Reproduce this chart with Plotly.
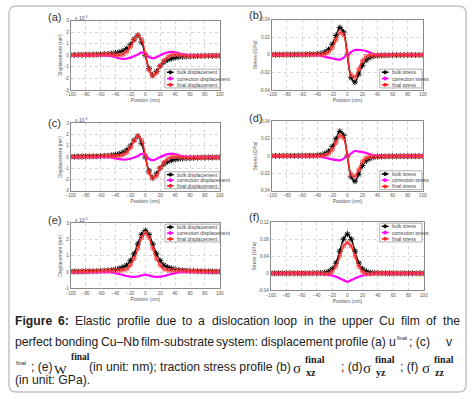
import plotly.graph_objects as go

W, H = 474, 399

X = list(range(-100, 105, 5))

# (a) u displacement (x 1e-3 nm)
A_BULK = [0.03,0.03,0.04,0.04,0.05,0.05,0.06,0.07,0.08,0.10,
          0.12,0.15,0.20,0.27,0.38,0.58,0.92,1.40,1.72,1.15,
          0.00,
          -1.15,-1.72,-1.40,-0.92,-0.60,-0.40,-0.28,-0.20,-0.15,
          -0.12,-0.10,-0.08,-0.07,-0.06,-0.05,-0.05,-0.04,-0.04,-0.03,
          -0.03]
A_CORR = [0,0,0,0,0,0,0,0,0,0,
          -0.02,-0.08,-0.15,-0.25,-0.30,-0.28,-0.20,-0.08,0.08,0.25,
          0.15,
          -0.15,-0.25,-0.15,0.00,0.15,0.25,0.30,0.28,0.18,
          0.10,0.05,0.02,0.01,0,0,0,0,0,0,
          0]
A_FINAL = [0.03,0.03,0.04,0.04,0.05,0.05,0.06,0.07,0.08,0.10,
           0.10,0.07,0.05,0.02,0.08,0.30,0.72,1.32,1.74,1.38,
           0.12,
           -1.28,-1.78,-1.52,-0.92,-0.45,-0.15,0.02,0.08,0.03,
           -0.02,-0.05,-0.06,-0.06,-0.06,-0.05,-0.05,-0.04,-0.04,-0.03,
           -0.03]

# (b) sigma_xz (GPa)
B_BULK = [0.0002,0.0002,0.0002,0.0002,0.0002,0.0002,0.0003,0.0003,0.0003,0.0004,
          0.0005,0.0006,0.0008,0.0015,0.003,0.006,0.012,0.022,0.031,0.026,
          0.0,
          -0.026,-0.031,-0.022,-0.012,-0.006,-0.003,-0.0015,-0.0008,-0.0006,
          -0.0005,-0.0004,-0.0003,-0.0003,-0.0003,-0.0002,-0.0002,-0.0002,-0.0002,-0.0002,
          -0.0002]
B_CORR = [0,0,0,0,0,0,0,0,0,0,
          0,-0.0001,-0.0004,-0.0012,-0.0022,-0.0032,-0.0041,-0.005,-0.0055,-0.0032,
          0.0,
          0.0032,0.0055,0.0056,0.0052,0.0042,0.0025,0.001,0.0003,0.0001,
          0,0,0,0,0,0,0,0,0,0,
          0]
B_FINAL = [0.0002,0.0002,0.0002,0.0002,0.0002,0.0002,0.0003,0.0003,0.0003,0.0004,
           0.0005,0.0005,0.0004,0.0003,0.0008,0.0028,0.0079,0.017,0.0255,0.0228,
           0.0,
           -0.0228,-0.0255,-0.0164,-0.0068,-0.0018,-0.0005,-0.0005,-0.0005,-0.0005,
           -0.0005,-0.0004,-0.0003,-0.0003,-0.0003,-0.0002,-0.0002,-0.0002,-0.0002,-0.0002,
           -0.0002]

# (c) v displacement (x 1e-3 nm)
C_BULK = [0.03,0.03,0.04,0.04,0.05,0.05,0.06,0.07,0.08,0.10,
          0.12,0.16,0.21,0.29,0.41,0.62,0.98,1.50,1.85,1.24,
          0.0,
          -1.24,-1.85,-1.50,-0.98,-0.63,-0.42,-0.29,-0.21,-0.16,
          -0.12,-0.10,-0.08,-0.07,-0.06,-0.05,-0.05,-0.04,-0.04,-0.03,
          -0.03]
C_CORR = [0,0,0,0,0,0,0,0,0,0,
          -0.02,-0.06,-0.12,-0.18,-0.22,-0.22,-0.15,-0.05,0.10,0.28,
          0.18,
          -0.18,-0.28,-0.18,0.0,0.15,0.26,0.30,0.26,0.16,
          0.09,0.04,0.02,0.01,0,0,0,0,0,0,
          0]
C_FINAL = [0.03,0.03,0.04,0.04,0.05,0.05,0.06,0.07,0.08,0.10,
           0.10,0.10,0.09,0.11,0.19,0.40,0.83,1.45,1.90,1.50,
           0.18,
           -1.42,-1.92,-1.68,-0.98,-0.48,-0.16,0.01,0.05,0.0,
           -0.03,-0.06,-0.06,-0.06,-0.06,-0.05,-0.05,-0.04,-0.04,-0.03,
           -0.03]

# (d) sigma_yz (GPa)
D_BULK = [0.0002,0.0002,0.0002,0.0002,0.0002,0.0002,0.0002,0.0003,0.0003,0.0003,
          0.0004,0.0005,0.0007,0.0013,0.0028,0.0055,0.011,0.020,0.0285,0.024,
          0.0,
          -0.024,-0.0292,-0.021,-0.011,-0.0055,-0.0028,-0.0013,-0.0007,-0.0005,
          -0.0004,-0.0003,-0.0003,-0.0003,-0.0002,-0.0002,-0.0002,-0.0002,-0.0002,-0.0002,
          -0.0002]
D_CORR = [0,0,0,0,0,0,0,0,0,0,
          0,-0.0001,-0.0003,-0.001,-0.002,-0.003,-0.0038,-0.0045,-0.005,-0.003,
          0.0,
          0.003,0.0058,0.0052,0.0046,0.0036,0.002,0.0008,0.0002,0.0001,
          0,0,0,0,0,0,0,0,0,0,
          0]
D_FINAL = [0.0002,0.0002,0.0002,0.0002,0.0002,0.0002,0.0002,0.0003,0.0003,0.0003,
           0.0004,0.0004,0.0004,0.0003,0.0008,0.0025,0.0072,0.0155,0.0235,0.021,
           0.0,
           -0.021,-0.0234,-0.0158,-0.0064,-0.0019,-0.0008,-0.0005,-0.0005,-0.0004,
           -0.0004,-0.0003,-0.0003,-0.0003,-0.0002,-0.0002,-0.0002,-0.0002,-0.0002,-0.0002,
           -0.0002]

# (e) w displacement (x 1e-3 nm)
E_BULK = [0.03,0.03,0.03,0.04,0.04,0.05,0.05,0.06,0.07,0.08,
          0.10,0.12,0.16,0.22,0.30,0.42,0.70,1.12,1.72,2.30,
          2.55,
          2.30,1.72,1.12,0.70,0.42,0.30,0.22,0.16,0.12,
          0.10,0.08,0.07,0.06,0.05,0.05,0.04,0.04,0.03,0.03,
          0.03]
E_CORR = [0,0,0,0,0,0,0,0,0,0,
          0,-0.02,-0.06,-0.12,-0.18,-0.24,-0.28,-0.30,-0.27,-0.20,
          -0.16,
          -0.20,-0.27,-0.30,-0.28,-0.24,-0.18,-0.12,-0.06,-0.02,
          0,0,0,0,0,0,0,0,0,0,
          0]
E_FINAL = [0.03,0.03,0.03,0.04,0.04,0.05,0.05,0.06,0.07,0.08,
           0.10,0.10,0.10,0.10,0.12,0.18,0.42,0.82,1.45,2.10,
           2.39,
           2.10,1.45,0.82,0.42,0.18,0.12,0.10,0.10,0.10,
           0.10,0.08,0.07,0.06,0.05,0.05,0.04,0.04,0.03,0.03,
           0.03]

# (f) sigma_zz (GPa)
F_BULK = [0,0,0,0,0,0,0,0,0,0,
          0.0002,0.0003,0.0004,0.0006,0.0015,0.004,0.010,0.024,0.052,0.080,
          0.092,
          0.080,0.052,0.024,0.010,0.004,0.0015,0.0006,0.0004,0.0003,
          0.0002,0,0,0,0,0,0,0,0,0,
          0]
F_CORR = [0,0,0,0,0,0,0,0,0,0,
          0,0,-0.0002,-0.0008,-0.0018,-0.003,-0.005,-0.008,-0.012,-0.016,
          -0.020,
          -0.016,-0.012,-0.008,-0.005,-0.003,-0.0018,-0.0008,-0.0002,0,
          0,0,0,0,0,0,0,0,0,0,
          0]
F_FINAL = [0,0,0,0,0,0,0,0,0,0,
           0.0002,0.0003,0.0002,-0.0002,-0.0015,-0.002,0.003,0.016,0.040,0.064,
           0.072,
           0.064,0.040,0.016,0.003,-0.002,-0.0015,-0.0002,0.0002,0.0003,
           0.0002,0,0,0,0,0,0,0,0,0,
           0]

X_TICKS = [-100, -80, -60, -40, -20, 0, 20, 40, 60, 80, 100]
DISP_LABELS = ["bulk displacement", "correction displacement", "final displacement"]
STRESS_LABELS = ["bulk stress", "correction stress", "final stress"]

CAPTION_1 = "Figure 6: Elastic profile due to a dislocation loop in the upper Cu film of the"
CAPTION_2 = "perfect bonding Cu–Nb film-substrate system: displacement profile (a) u"
CAPTION_4 = "(in unit: GPa)."

SANS = "Liberation Sans, Arial, sans-serif"
SERIF = "Liberation Serif, Times New Roman, serif"

# panel layout in pixels: (left, right, top, bottom)
PANELS = [
    dict(letter="(a)", box=(67, 219, 19, 89), data=(A_BULK, A_CORR, A_FINAL), yr=(-3, 3), yt=[-3, -2, -1, 0, 1, 2, 3],
         ytext=["-3", "-2", "-1", "0", "1", "2", "3"], ytitle="Displacement (nm)", labels=DISP_LABELS,
         leg=(163, 219, 68, 87), exp=True, lpos=(42, 15)),
    dict(letter="(b)", box=(272, 426, 18, 89), data=(B_BULK, B_CORR, B_FINAL), yr=(-0.04, 0.04),
         yt=[-0.04, -0.02, 0, 0.02, 0.04], ytext=["-0.04", "-0.02", "0", "0.02", "0.04"], ytitle="Stress (GPa)",
         labels=STRESS_LABELS, leg=(382, 425, 68, 87), exp=False, lpos=(247, 13)),
    dict(letter="(c)", box=(67, 219, 123, 191), data=(C_BULK, C_CORR, C_FINAL), yr=(-3, 3), yt=[-3, -2, -1, 0, 1, 2, 3],
         ytext=["-3", "-2", "-1", "0", "1", "2", "3"], ytitle="Displacement (nm)", labels=DISP_LABELS,
         leg=(163, 219, 172, 189), exp=True, lpos=(42, 123)),
    dict(letter="(d)", box=(272, 426, 121, 191), data=(D_BULK, D_CORR, D_FINAL), yr=(-0.04, 0.04),
         yt=[-0.04, -0.02, 0, 0.02, 0.04], ytext=["-0.04", "-0.02", "0", "0.02", "0.04"], ytitle="Stress (GPa)",
         labels=STRESS_LABELS, leg=(382, 425, 171, 190), exp=False, lpos=(247, 117)),
    dict(letter="(e)", box=(67, 219, 224, 290), data=(E_BULK, E_CORR, E_FINAL), yr=(-1, 3), yt=[-1, 0, 1, 2, 3],
         ytext=["-1", "0", "1", "2", "3"], ytitle="Displacement (nm)", labels=DISP_LABELS,
         leg=(163, 219, 225, 243), exp=True, lpos=(42, 221)),
    dict(letter="(f)", box=(271, 427, 223, 292), data=(F_BULK, F_CORR, F_FINAL), yr=(-0.04, 0.12),
         yt=[-0.04, 0, 0.04, 0.08, 0.12], ytext=["-0.04", "0", "0.04", "0.08", "0.12"], ytitle="Stress (GPa)",
         labels=STRESS_LABELS, leg=(382, 425, 224, 243), exp=False, lpos=(247, 218)),
]

COLORS = ["#000000", "#ff00ff", "#ff2020"]

# approximate Arial / Liberation Sans advance widths (per 1000 em)
CW = {" ": 278, "(": 333, ")": 333, ",": 278, "-": 333, ".": 278, ":": 278, ";": 278, "–": 556,
      "A": 667, "B": 667, "C": 722, "D": 722, "E": 667, "F": 611, "G": 778, "N": 722, "P": 667, "W": 944,
      "a": 556, "b": 556, "c": 500, "d": 556, "e": 556, "f": 278, "g": 556, "h": 556, "i": 222, "j": 222,
      "k": 500, "l": 222, "m": 833, "n": 556, "o": 556, "p": 556, "q": 556, "r": 333, "s": 500, "t": 278,
      "u": 556, "v": 500, "w": 722, "x": 500, "y": 500, "z": 500}
CWB = {"r": 389, "i": 278, "g": 611, "u": 611, ":": 333}


def tw(s, size, bold=False):
    tot = 0
    for ch in s:
        if bold and ch in CWB:
            tot += CWB[ch]
        else:
            tot += CW.get(ch, 556)
    return tot / 1000 * size


def px(x):
    return x / W


def py(y):
    return 1 - y / H


fig = go.Figure()
layout = dict(width=W, height=H, margin=dict(l=0, r=0, t=0, b=0),
              paper_bgcolor="white", plot_bgcolor="white", showlegend=False)
shapes = []
annotations = []

tickfont = dict(family=SANS, size=4.6, color="#555")

for i, p in enumerate(PANELS, start=1):
    l, r, t, b = p["box"]
    xa = "xaxis" if i == 1 else f"xaxis{i}"
    ya = "yaxis" if i == 1 else f"yaxis{i}"
    xr = "x" if i == 1 else f"x{i}"
    yr = "y" if i == 1 else f"y{i}"
    layout[xa] = dict(domain=[px(l), px(r)], anchor=yr, range=[-100, 100], tickvals=X_TICKS,
                      showgrid=True, gridcolor="#d8d8d8", griddash="dot", gridwidth=1,
                      showline=True, mirror=True, linecolor="#8a8a8a", linewidth=1, zeroline=False,
                      ticks="", tickfont=tickfont,
                      title=dict(text="Position (nm)", font=dict(family=SANS, size=5, color="#555"), standoff=0))
    layout[ya] = dict(domain=[py(b), py(t)], anchor=xr, range=list(p["yr"]), tickvals=p["yt"], ticktext=p["ytext"],
                      showgrid=True, gridcolor="#d8d8d8", griddash="dot", gridwidth=1,
                      showline=True, mirror=True, linecolor="#8a8a8a", linewidth=1, zeroline=False,
                      ticks="", tickfont=tickfont,
                      title=dict(text=p["ytitle"], font=dict(family=SANS, size=5, color="#555"), standoff=1))
    bulk, corr, final = p["data"]
    fig.add_trace(go.Scatter(x=X, y=bulk, mode="lines+markers", xaxis=xr, yaxis=yr,
                             line=dict(color=COLORS[0], width=1.5, shape="spline"),
                             marker=dict(symbol="asterisk-open", size=5, color=COLORS[0], line=dict(width=1, color=COLORS[0]))))
    fig.add_trace(go.Scatter(x=X, y=corr, mode="lines", xaxis=xr, yaxis=yr,
                             line=dict(color=COLORS[1], width=2.2, shape="spline")))
    fig.add_trace(go.Scatter(x=X, y=final, mode="lines+markers", xaxis=xr, yaxis=yr,
                             line=dict(color=COLORS[2], width=1.6, shape="spline"),
                             marker=dict(symbol="circle-open", size=4, color="#ff5050", line=dict(width=1, color="#ff4040"))))
    lx, ly = p["lpos"]
    annotations.append(dict(text=p["letter"], x=px(lx), y=py(ly), xref="paper", yref="paper",
                            xanchor="left", yanchor="middle", showarrow=False,
                            font=dict(family=SANS, size=11, color="#333")))
    if p["exp"]:
        annotations.append(dict(text="x 10<sup>-3</sup>", x=px(l + 2), y=py(t - 3), xref="paper", yref="paper",
                                xanchor="left", yanchor="middle", showarrow=False,
                                font=dict(family=SANS, size=5, color="#555")))
    gx0, gx1, gy0, gy1 = p["leg"]
    shapes.append(dict(type="rect", xref="paper", yref="paper", x0=px(gx0), x1=px(gx1), y0=py(gy1), y1=py(gy0),
                       fillcolor="white", line=dict(color="#9a9a9a", width=0.8)))
    rowh = (gy1 - gy0) / 3
    for k, lab in enumerate(p["labels"]):
        yy = gy0 + (k + 0.5) * rowh
        shapes.append(dict(type="line", xref="paper", yref="paper", x0=px(gx0 + 2), x1=px(gx0 + 9),
                           y0=py(yy), y1=py(yy), line=dict(color=COLORS[k], width=1.5)))
        shapes.append(dict(type="circle", xref="paper", yref="paper", x0=px(gx0 + 4), x1=px(gx0 + 7),
                           y0=py(yy + 1.5), y1=py(yy - 1.5), line=dict(color=COLORS[k], width=1),
                           fillcolor=COLORS[k]))
        annotations.append(dict(text=lab, x=px(gx0 + 10), y=py(yy), xref="paper", yref="paper",
                                xanchor="left", yanchor="middle", showarrow=False,
                                font=dict(family=SANS, size=5, color="#444")))

# outer rounded border
x0, x1, y0, y1 = px(4), px(470), py(395), py(4)
rx, ry = 8 / W, 8 / H
path = (f"M {x0+rx},{y1} L {x1-rx},{y1} Q {x1},{y1} {x1},{y1-ry} L {x1},{y0+ry} Q {x1},{y0} {x1-rx},{y0} "
        f"L {x0+rx},{y0} Q {x0},{y0} {x0},{y0+ry} L {x0},{y1-ry} Q {x0},{y1} {x0+rx},{y1} Z")
shapes.append(dict(type="path", xref="paper", yref="paper", path=path, line=dict(color="#c4c4c4", width=1.5)))

CAP = 12.2
capcol = "#222"


def cap(text, x, y, size=CAP, family=SANS, anchor="left"):
    annotations.append(dict(text=text, x=px(x), y=py(y), xref="paper", yref="paper", xanchor=anchor,
                            yanchor="middle", showarrow=False, borderpad=0, borderwidth=0,
                            font=dict(family=family, size=size, color=capcol)))


def justify(line, x_start, x_end, y, bold_words=0):
    words = line.split(" ")
    widths = [tw(w, CAP, bold=(j < bold_words)) for j, w in enumerate(words)]
    gap = (x_end - x_start - sum(widths)) / (len(words) - 1)
    x = x_start
    for j, (w, wd) in enumerate(zip(words, widths)):
        cap(f"<b>{w}</b>" if j < bold_words else w, x, y)
        x += wd + gap


justify(CAPTION_1, 10, 463, 323, bold_words=2)
justify(CAPTION_2, 10, 398, 344)
cap("final", 400, 340, size=5.5)
cap("; (c)", 412, 344)
cap("v", 457, 344, anchor="right")
cap("final", 11, 366, size=5.5)
cap("; (e)", 26, 370)
cap("W", 50, 372, size=13.5, family=SERIF)
cap("<b>final</b>", 67, 360, size=9.5, family=SERIF)
cap("(in unit: nm); traction stress profile (b)", 292, 370, anchor="right")
for sx, sub in [(294, "xz"), (365, "yz"), (425, "zz")]:
    cap("σ", sx, 371, size=15, family=SERIF)
    cap("<b>final</b>", sx + 12, 362, size=10, family=SERIF)
    cap("<b>" + sub + "</b>", sx + 13, 375, size=10, family=SERIF)
cap("; (d)", 342, 370)
cap("; (f)", 403, 370)
cap(CAPTION_4, 10, 383)

layout["shapes"] = shapes
layout["annotations"] = annotations
fig.update_layout(**layout)
fig.write_html("out.html", config={"displayModeBar": False},
               post_script="document.body.style.margin='0px';")
